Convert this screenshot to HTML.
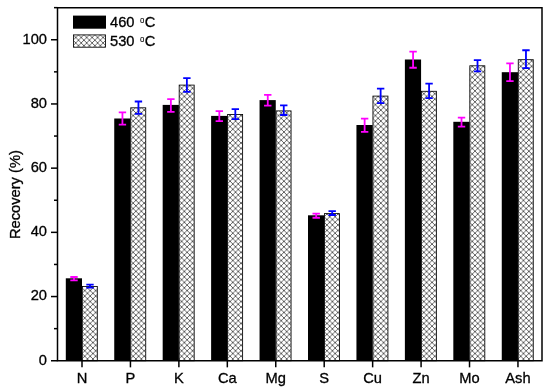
<!DOCTYPE html>
<html><head><meta charset="utf-8"><title>Recovery chart</title>
<style>html,body{margin:0;padding:0;background:#fff}svg{display:block}text{font-family:'Liberation Sans', sans-serif;fill:#000;stroke:#000;stroke-width:0.3px}</style></head><body>
<svg width="550" height="390" viewBox="0 0 550 390">
<defs><pattern id="h" width="5.47" height="5.47" patternUnits="userSpaceOnUse"><path d="M-1,-1L6.47,6.47M-1,6.47L6.47,-1" stroke="#333" stroke-width="0.75" fill="none"/></pattern></defs>
<rect width="550" height="390" fill="#fff"/>
<rect x="65.80" y="278.30" width="16.20" height="82.45" fill="#000"/>
<g transform="translate(82.00,3.42)"><rect x="0.3" y="283.08" width="15.00" height="74.25" fill="url(#h)" stroke="#000" stroke-width="0.85"/></g>
<rect x="114.24" y="118.50" width="16.20" height="242.25" fill="#000"/>
<g transform="translate(130.44,3.42)"><rect x="0.3" y="104.38" width="15.00" height="252.95" fill="url(#h)" stroke="#000" stroke-width="0.85"/></g>
<rect x="162.68" y="104.90" width="16.20" height="255.85" fill="#000"/>
<g transform="translate(178.88,3.42)"><rect x="0.3" y="81.68" width="15.00" height="275.65" fill="url(#h)" stroke="#000" stroke-width="0.85"/></g>
<rect x="211.12" y="115.90" width="16.20" height="244.85" fill="#000"/>
<g transform="translate(227.32,3.42)"><rect x="0.3" y="111.08" width="15.00" height="246.25" fill="url(#h)" stroke="#000" stroke-width="0.85"/></g>
<rect x="259.56" y="100.10" width="16.20" height="260.65" fill="#000"/>
<g transform="translate(275.76,3.42)"><rect x="0.3" y="107.48" width="15.00" height="249.85" fill="url(#h)" stroke="#000" stroke-width="0.85"/></g>
<rect x="308.00" y="215.30" width="16.20" height="145.45" fill="#000"/>
<g transform="translate(324.20,3.42)"><rect x="0.3" y="210.18" width="15.00" height="147.15" fill="url(#h)" stroke="#000" stroke-width="0.85"/></g>
<rect x="356.44" y="125.00" width="16.20" height="235.75" fill="#000"/>
<g transform="translate(372.64,3.42)"><rect x="0.3" y="92.68" width="15.00" height="264.65" fill="url(#h)" stroke="#000" stroke-width="0.85"/></g>
<rect x="404.88" y="59.50" width="16.20" height="301.25" fill="#000"/>
<g transform="translate(421.08,3.42)"><rect x="0.3" y="87.88" width="15.00" height="269.45" fill="url(#h)" stroke="#000" stroke-width="0.85"/></g>
<rect x="453.32" y="121.80" width="16.20" height="238.95" fill="#000"/>
<g transform="translate(469.52,3.42)"><rect x="0.3" y="62.38" width="15.00" height="294.95" fill="url(#h)" stroke="#000" stroke-width="0.85"/></g>
<rect x="501.76" y="72.20" width="16.20" height="288.55" fill="#000"/>
<g transform="translate(517.96,3.42)"><rect x="0.3" y="56.28" width="15.00" height="301.05" fill="url(#h)" stroke="#000" stroke-width="0.85"/></g>
<rect x="57.50" y="7.75" width="484.50" height="353.00" fill="none" stroke="#000" stroke-width="1.50"/>
<line x1="51.00" y1="360.75" x2="57.50" y2="360.75" stroke="#000" stroke-width="1.50"/>
<text transform="translate(47.00,364.65) scale(1,1.045)" font-size="14.7" text-anchor="end">0</text>
<line x1="54.00" y1="328.65" x2="57.50" y2="328.65" stroke="#000" stroke-width="1.50"/>
<line x1="51.00" y1="296.55" x2="57.50" y2="296.55" stroke="#000" stroke-width="1.50"/>
<text transform="translate(47.00,300.45) scale(1,1.045)" font-size="14.7" text-anchor="end">20</text>
<line x1="54.00" y1="264.45" x2="57.50" y2="264.45" stroke="#000" stroke-width="1.50"/>
<line x1="51.00" y1="232.35" x2="57.50" y2="232.35" stroke="#000" stroke-width="1.50"/>
<text transform="translate(47.00,236.25) scale(1,1.045)" font-size="14.7" text-anchor="end">40</text>
<line x1="54.00" y1="200.25" x2="57.50" y2="200.25" stroke="#000" stroke-width="1.50"/>
<line x1="51.00" y1="168.15" x2="57.50" y2="168.15" stroke="#000" stroke-width="1.50"/>
<text transform="translate(47.00,172.05) scale(1,1.045)" font-size="14.7" text-anchor="end">60</text>
<line x1="54.00" y1="136.05" x2="57.50" y2="136.05" stroke="#000" stroke-width="1.50"/>
<line x1="51.00" y1="103.95" x2="57.50" y2="103.95" stroke="#000" stroke-width="1.50"/>
<text transform="translate(47.00,107.85) scale(1,1.045)" font-size="14.7" text-anchor="end">80</text>
<line x1="54.00" y1="71.85" x2="57.50" y2="71.85" stroke="#000" stroke-width="1.50"/>
<line x1="51.00" y1="39.75" x2="57.50" y2="39.75" stroke="#000" stroke-width="1.50"/>
<text transform="translate(47.00,43.65) scale(1,1.045)" font-size="14.7" text-anchor="end">100</text>
<line x1="54.00" y1="7.65" x2="57.50" y2="7.65" stroke="#000" stroke-width="1.50"/>
<line x1="82.00" y1="360.75" x2="82.00" y2="367.35" stroke="#000" stroke-width="1.50"/>
<text transform="translate(82.00,382.60) scale(1,1.045)" font-size="14.7" text-anchor="middle">N</text>
<line x1="130.44" y1="360.75" x2="130.44" y2="367.35" stroke="#000" stroke-width="1.50"/>
<text transform="translate(130.44,382.60) scale(1,1.045)" font-size="14.7" text-anchor="middle">P</text>
<line x1="178.88" y1="360.75" x2="178.88" y2="367.35" stroke="#000" stroke-width="1.50"/>
<text transform="translate(178.88,382.60) scale(1,1.045)" font-size="14.7" text-anchor="middle">K</text>
<line x1="227.32" y1="360.75" x2="227.32" y2="367.35" stroke="#000" stroke-width="1.50"/>
<text transform="translate(227.32,382.60) scale(1,1.045)" font-size="14.7" text-anchor="middle">Ca</text>
<line x1="275.76" y1="360.75" x2="275.76" y2="367.35" stroke="#000" stroke-width="1.50"/>
<text transform="translate(275.76,382.60) scale(1,1.045)" font-size="14.7" text-anchor="middle">Mg</text>
<line x1="324.20" y1="360.75" x2="324.20" y2="367.35" stroke="#000" stroke-width="1.50"/>
<text transform="translate(324.20,382.60) scale(1,1.045)" font-size="14.7" text-anchor="middle">S</text>
<line x1="372.64" y1="360.75" x2="372.64" y2="367.35" stroke="#000" stroke-width="1.50"/>
<text transform="translate(372.64,382.60) scale(1,1.045)" font-size="14.7" text-anchor="middle">Cu</text>
<line x1="421.08" y1="360.75" x2="421.08" y2="367.35" stroke="#000" stroke-width="1.50"/>
<text transform="translate(421.08,382.60) scale(1,1.045)" font-size="14.7" text-anchor="middle">Zn</text>
<line x1="469.52" y1="360.75" x2="469.52" y2="367.35" stroke="#000" stroke-width="1.50"/>
<text transform="translate(469.52,382.60) scale(1,1.045)" font-size="14.7" text-anchor="middle">Mo</text>
<line x1="517.96" y1="360.75" x2="517.96" y2="367.35" stroke="#000" stroke-width="1.50"/>
<text transform="translate(517.96,382.60) scale(1,1.045)" font-size="14.7" text-anchor="middle">Ash</text>
<path d="M74.00,277.00V280.40M70.30,277.00H77.70M70.30,280.40H77.70" stroke="#ff00ff" stroke-width="1.8" fill="none"/>
<path d="M90.00,284.70V287.70M86.30,284.70H93.70M86.30,287.70H93.70" stroke="#0000ff" stroke-width="1.8" fill="none"/>
<path d="M122.44,112.45V124.55M118.74,112.45H126.14M118.74,124.55H126.14" stroke="#ff00ff" stroke-width="1.8" fill="none"/>
<path d="M138.44,101.50V113.90M134.74,101.50H142.14M134.74,113.90H142.14" stroke="#0000ff" stroke-width="1.8" fill="none"/>
<path d="M170.88,99.10V111.80M167.18,99.10H174.58M167.18,111.80H174.58" stroke="#ff00ff" stroke-width="1.8" fill="none"/>
<path d="M186.88,78.20V91.80M183.18,78.20H190.58M183.18,91.80H190.58" stroke="#0000ff" stroke-width="1.8" fill="none"/>
<path d="M219.32,111.20V121.10M215.62,111.20H223.02M215.62,121.10H223.02" stroke="#ff00ff" stroke-width="1.8" fill="none"/>
<path d="M235.32,109.10V119.10M231.62,109.10H239.02M231.62,119.10H239.02" stroke="#0000ff" stroke-width="1.8" fill="none"/>
<path d="M267.76,94.80V105.70M264.06,94.80H271.46M264.06,105.70H271.46" stroke="#ff00ff" stroke-width="1.8" fill="none"/>
<path d="M283.76,105.40V115.00M280.06,105.40H287.46M280.06,115.00H287.46" stroke="#0000ff" stroke-width="1.8" fill="none"/>
<path d="M316.20,213.65V217.75M312.50,213.65H319.90M312.50,217.75H319.90" stroke="#ff00ff" stroke-width="1.8" fill="none"/>
<path d="M332.20,211.10V215.00M328.50,211.10H335.90M328.50,215.00H335.90" stroke="#0000ff" stroke-width="1.8" fill="none"/>
<path d="M364.64,118.70V131.80M360.94,118.70H368.34M360.94,131.80H368.34" stroke="#ff00ff" stroke-width="1.8" fill="none"/>
<path d="M380.64,88.60V103.20M376.94,88.60H384.34M376.94,103.20H384.34" stroke="#0000ff" stroke-width="1.8" fill="none"/>
<path d="M413.08,51.55V67.75M409.38,51.55H416.78M409.38,67.75H416.78" stroke="#ff00ff" stroke-width="1.8" fill="none"/>
<path d="M429.08,83.60V98.20M425.38,83.60H432.78M425.38,98.20H432.78" stroke="#0000ff" stroke-width="1.8" fill="none"/>
<path d="M461.52,117.55V126.55M457.82,117.55H465.22M457.82,126.55H465.22" stroke="#ff00ff" stroke-width="1.8" fill="none"/>
<path d="M477.52,60.20V71.40M473.82,60.20H481.22M473.82,71.40H481.22" stroke="#0000ff" stroke-width="1.8" fill="none"/>
<path d="M509.96,63.45V81.05M506.26,63.45H513.66M506.26,81.05H513.66" stroke="#ff00ff" stroke-width="1.8" fill="none"/>
<path d="M525.96,50.23V68.17M522.26,50.23H529.66M522.26,68.17H529.66" stroke="#0000ff" stroke-width="1.8" fill="none"/>
<rect x="73" y="15.6" width="33" height="13.1" fill="#000"/>
<g transform="translate(73,1.91)"><rect x="0.5" y="32.99" width="32" height="12.3" fill="url(#h)" stroke="#000" stroke-width="0.85"/></g>
<text transform="translate(110.00,26.80) scale(1,1.045)" font-size="14.7" text-anchor="start">460 <tspan font-size="7.8" dx="1.3" dy="-3.7" stroke-width="0.1">o</tspan><tspan dx="0.55" dy="3.7">C</tspan></text>
<text transform="translate(110.00,45.60) scale(1,1.045)" font-size="14.7" text-anchor="start">530 <tspan font-size="7.8" dx="1.3" dy="-3.7" stroke-width="0.1">o</tspan><tspan dx="0.55" dy="3.7">C</tspan></text>
<text transform="translate(19.50,194.60) rotate(-90) scale(1,1.045)" font-size="14.7" text-anchor="middle">Recovery (%)</text>
</svg></body></html>
